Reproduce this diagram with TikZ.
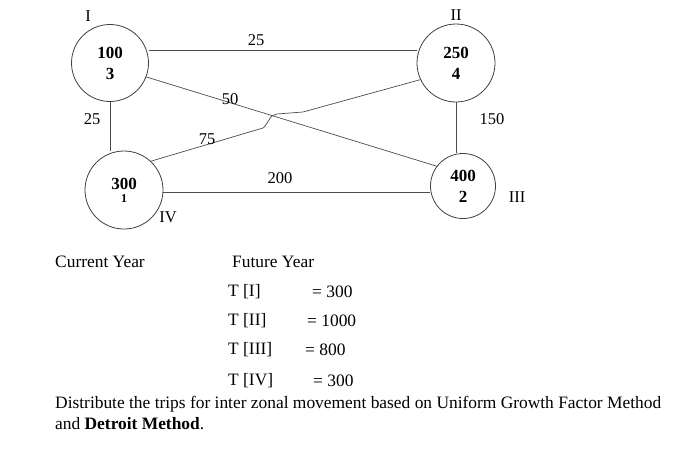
\documentclass[tikz,border=0pt]{standalone}
\usepackage{fontspec}
\setmainfont{Liberation Serif}
\begin{document}
\begin{tikzpicture}[x=1pt,y=-1pt,
  zone/.style={draw=black!75, line width=0.8pt, circle, inner sep=0pt, align=center, font=\fontsize{17}{21}\selectfont\bfseries},
  lbl/.style={font=\fontsize{16.5}{18}\selectfont, inner sep=0pt},
  txt/.style={font=\fontsize{17.4}{20}\selectfont, inner sep=0pt, anchor=west},
  link/.style={draw=black!70, line width=0.7pt}]
\useasboundingbox (0,0) rectangle (700,453);
\node[zone, minimum size=77] (i) at (110,63) {100\\3};
\node[zone, minimum size=78] (ii) at (456,63) {250\\4};
\node[zone, minimum size=78] (iv) at (124,190) {300\\[-8pt]{\fontsize{12}{12}\selectfont 1}};
\node[zone, minimum size=65] (iii) at (463,186) {400\\2};
\node[lbl] (li) at (88,16) {I};
\node[lbl] (lii) at (456,15) {II};
\node[lbl] (liii) at (517,197) {III};
\node[lbl] (liv) at (168,217) {IV};
% links
\draw[link] (i.east |- 0,50) -- (ii.west |- 0,50);
\draw[link] (i.south) -- (iv.north -| i.south);
\draw[link] (ii.south) -- (iii.north -| ii.south);
\draw[link] (iv.east |- 0,192) -- (iii.west |- 0,192);
\draw[link] (i.339) -- (iii.143);
\coordinate (h1) at (263,128);
\coordinate (h2) at (277,114);
\coordinate (h3) at (303,112);
\draw[link] (iv.47) -- (h1) .. controls (268,124) and (270,114) .. (h2) -- (h3) -- (ii.205);
\node[lbl] (e1) at (256,40) {25};
\node[lbl] (e2) at (92,119) {25};
\node[lbl] (e3) at (492,119) {150};
\node[lbl] (e4) at (280,178) {200};
\node[lbl] (e5) at (230,99) {50};
\node[lbl] (e6) at (207,139) {75};
% text
\node[txt] (cy) at (55,262) {Current Year};
\node[txt] (fy) at (232,262) {Future Year};
\node[txt] (t1) at (228,292) {T [I]};
\node[txt] (v1) at (312,292) {= 300};
\node[txt] (t2) at (228,321) {T [II]};
\node[txt] (v2) at (307,321) {= 1000};
\node[txt] (t3) at (228,350) {T [III]};
\node[txt] (v3) at (305,350) {= 800};
\node[txt] (t4) at (228,381) {T [IV]};
\node[txt] (v4) at (313,381) {= 300};
\node[txt] (d1) at (55,404) {Distribute the trips for inter zonal movement based on Uniform Growth Factor Method};
\node[txt] (d2) at (55,424) {and \textbf{Detroit Method}.};
\end{tikzpicture}
\end{document}
